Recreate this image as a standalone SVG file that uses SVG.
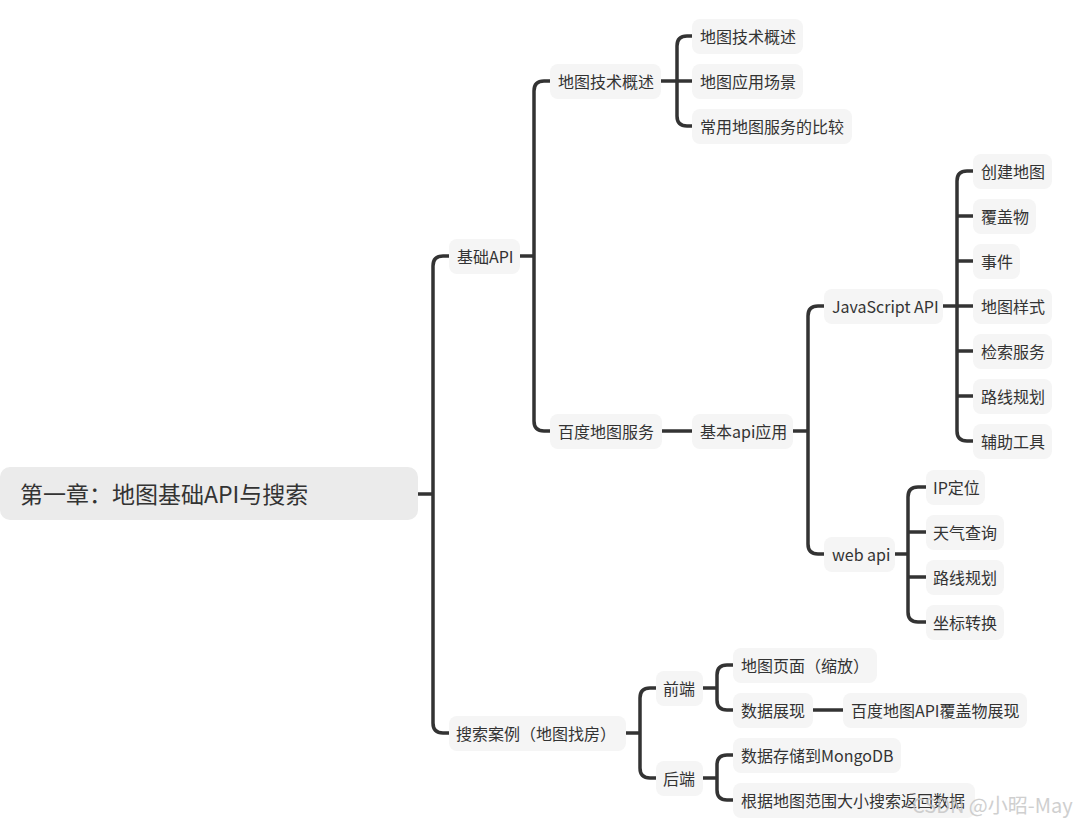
<svg xmlns="http://www.w3.org/2000/svg" width="1076" height="823" viewBox="0 0 1076 823">
<style>
.n rect{fill:#f5f5f5;}
.n text{font-family:"Noto Sans CJK SC","Liberation Sans",sans-serif;font-size:16px;fill:#333;dominant-baseline:central;}
.root rect{fill:#ebebeb;}
.root text{font-family:"Noto Sans CJK SC","Liberation Sans",sans-serif;font-size:23px;fill:#333;dominant-baseline:central;}
.c path{fill:none;stroke:#333;stroke-width:3.5;stroke-linecap:butt;}
.wm{font-family:"Noto Sans CJK SC","Liberation Sans",sans-serif;font-size:20px;fill:#c4c4c4;opacity:0.8;}
</style>
<rect width="1076" height="823" fill="#ffffff"/>
<g class="c" id="connectors">
<path d="M418,494 H433"/>
<path d="M449,256 H443 Q433,256 433,266 V723 Q433,733 443,733 H449"/>
<path d="M520,256 H534"/>
<path d="M550,81 H544 Q534,81 534,91 V421 Q534,431 544,431 H550"/>
<path d="M661,81 H692"/>
<path d="M692,36 H687 Q677,36 677,46 V116 Q677,126 687,126 H692"/>
<path d="M662,431 H692"/>
<path d="M793,431 H808"/>
<path d="M824,306 H818 Q808,306 808,316 V544 Q808,554 818,554 H824"/>
<path d="M943,306 H973"/>
<path d="M973,171 H967 Q957,171 957,181 V431 Q957,441 967,441 H973"/>
<path d="M957,216 H973 M957,261 H973 M957,351 H973 M957,396 H973"/>
<path d="M895,554 H908"/>
<path d="M926,487 H918 Q908,487 908,497 V612 Q908,622 918,622 H926"/>
<path d="M908,532 H926 M908,577 H926"/>
<path d="M626,733 H640"/>
<path d="M656,688 H650 Q640,688 640,698 V768 Q640,778 650,778 H656"/>
<path d="M703,688 H717"/>
<path d="M733,665 H727 Q717,665 717,675 V700 Q717,710 727,710 H733"/>
<path d="M703,778 H717"/>
<path d="M733,755 H727 Q717,755 717,765 V790 Q717,800 727,800 H733"/>
<path d="M813,710 H843"/>
</g>
<g id="root" class="root"><rect x="0" y="467" width="418" height="53" rx="10"/><text x="20" y="493">第一章：地图基础API与搜索</text></g>
<g id="n-jichu" class="n"><rect x="449" y="239" width="71" height="35" rx="8"/><text x="457" y="256">基础API</text></g>
<g id="n-gaishu" class="n"><rect x="550" y="64" width="111" height="35" rx="8"/><text x="558" y="81">地图技术概述</text></g>
<g id="n-gaishu2" class="n"><rect x="692" y="19" width="111" height="35" rx="8"/><text x="700" y="36">地图技术概述</text></g>
<g id="n-changjing" class="n"><rect x="692" y="64" width="111" height="35" rx="8"/><text x="700" y="81">地图应用场景</text></g>
<g id="n-bijiao" class="n"><rect x="692" y="109" width="160" height="35" rx="8"/><text x="700" y="126">常用地图服务的比较</text></g>
<g id="n-baidu" class="n"><rect x="550" y="414" width="112" height="35" rx="8"/><text x="558" y="431">百度地图服务</text></g>
<g id="n-jiben" class="n"><rect x="692" y="414" width="101" height="35" rx="8"/><text x="700" y="431">基本api应用</text></g>
<g id="n-js" class="n"><rect x="824" y="289" width="119" height="35" rx="8"/><text x="832" y="306">JavaScript API</text></g>
<g id="n-js1" class="n"><rect x="973" y="154" width="79" height="35" rx="8"/><text x="981" y="171">创建地图</text></g>
<g id="n-js2" class="n"><rect x="973" y="199" width="63" height="35" rx="8"/><text x="981" y="216">覆盖物</text></g>
<g id="n-js3" class="n"><rect x="973" y="244" width="47" height="35" rx="8"/><text x="981" y="261">事件</text></g>
<g id="n-js4" class="n"><rect x="973" y="289" width="79" height="35" rx="8"/><text x="981" y="306">地图样式</text></g>
<g id="n-js5" class="n"><rect x="973" y="334" width="79" height="35" rx="8"/><text x="981" y="351">检索服务</text></g>
<g id="n-js6" class="n"><rect x="973" y="379" width="79" height="35" rx="8"/><text x="981" y="396">路线规划</text></g>
<g id="n-js7" class="n"><rect x="973" y="424" width="79" height="35" rx="8"/><text x="981" y="441">辅助工具</text></g>
<g id="n-web" class="n"><rect x="824" y="537" width="71" height="35" rx="8"/><text x="832" y="554">web api</text></g>
<g id="n-web1" class="n"><rect x="926" y="470" width="59" height="35" rx="8"/><text x="933" y="487">IP定位</text></g>
<g id="n-web2" class="n"><rect x="926" y="515" width="78" height="35" rx="8"/><text x="933" y="532">天气查询</text></g>
<g id="n-web3" class="n"><rect x="926" y="560" width="78" height="35" rx="8"/><text x="933" y="577">路线规划</text></g>
<g id="n-web4" class="n"><rect x="926" y="605" width="78" height="35" rx="8"/><text x="933" y="622">坐标转换</text></g>
<g id="n-search" class="n"><rect x="449" y="716" width="177" height="35" rx="8"/><text x="456" y="733">搜索案例（地图找房）</text></g>
<g id="n-front" class="n"><rect x="656" y="671" width="47" height="35" rx="8"/><text x="663" y="688">前端</text></g>
<g id="n-back" class="n"><rect x="656" y="761" width="47" height="35" rx="8"/><text x="663" y="778">后端</text></g>
<g id="n-f1" class="n"><rect x="733" y="648" width="144" height="35" rx="8"/><text x="741" y="665">地图页面（缩放）</text></g>
<g id="n-f2" class="n"><rect x="733" y="693" width="80" height="35" rx="8"/><text x="741" y="710">数据展现</text></g>
<g id="n-f2a" class="n"><rect x="843" y="693" width="184" height="35" rx="8"/><text x="851" y="710">百度地图API覆盖物展现</text></g>
<g id="n-b1" class="n"><rect x="733" y="738" width="168" height="35" rx="8"/><text x="741" y="755">数据存储到MongoDB</text></g>
<g id="n-b2" class="n"><rect x="733" y="783" width="242" height="35" rx="8"/><text x="741" y="800">根据地图范围大小搜索返回数据</text></g>
<text class="wm" x="912" y="813">CSDN @小昭-May</text>
</svg>
